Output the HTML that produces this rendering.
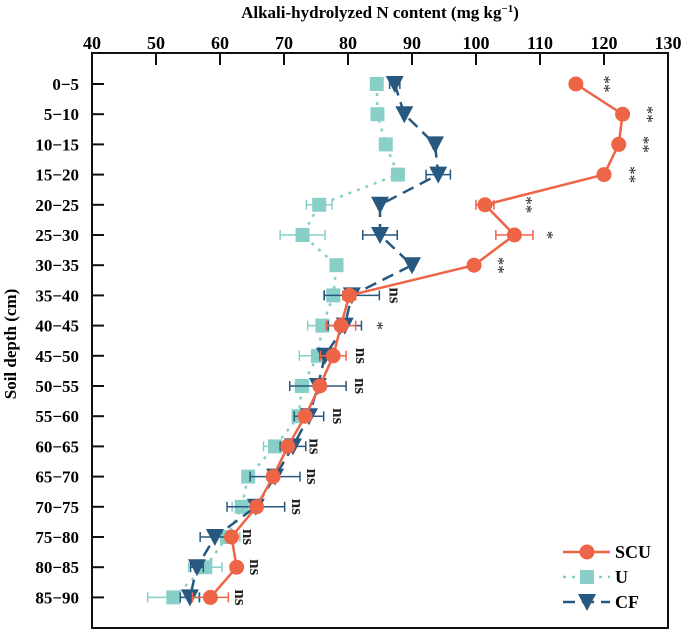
<!DOCTYPE html>
<html><head><meta charset="utf-8"><style>
html,body{margin:0;padding:0;background:#fff;}
svg{display:block;font-family:"Liberation Serif",serif;font-weight:bold;}
</style></head><body>
<svg id="chart" width="685" height="632" viewBox="0 0 685 632" xmlns="http://www.w3.org/2000/svg"></svg>
<script>
const depths=["0−5","5−10","10−15","15−20","20−25","25−30","30−35","35−40","40−45","45−50","50−55","55−60","60−65","65−70","70−75","75−80","80−85","85−90"];
const scu=[115.6,122.9,122.3,120,101.4,106,99.7,80.2,78.9,77.7,75.6,73.3,70.6,68.3,65.7,61.8,62.6,58.5];
const scuErr=[0.6,0.5,0.5,0.8,1.4,2.9,0.5,1,2.3,2,0.8,0.8,0.8,0.8,0.8,0.8,0.5,2.8];
const u=[84.5,84.6,85.9,87.8,75.5,72.9,78.2,77.7,76,75.3,72.8,72.3,68.6,64.4,63.4,61.1,57.7,52.7];
const uErr=[0.3,0.3,0.3,0.5,2,3.5,0.3,1.5,2.3,2.9,1,1,1.8,0.8,1.5,2,2.6,4];
const cf=[87.3,88.8,93.6,94.1,85,85,90,80.6,79.5,76.4,75.3,73.9,71.4,68.6,65.6,59.2,56.4,55.3];
const cfErr=[0.8,0.3,0.3,1.9,0.3,2.7,0.3,4.3,2.6,0.8,4.4,2.3,2,3.9,4.5,2.3,1,1.5];
const sig=["**","**","**","**","**","*","**","ns","*","ns","ns","ns","ns","ns","ns","ns","ns","ns"];
const sigX=[120,126.7,126.1,124,107.8,111.1,103.4,87.3,84.5,82,81.9,78.4,74.8,74.4,72,64.4,65.5,63.1];
const xTicks=[40,50,60,70,80,90,100,110,120,130];

const NS="http://www.w3.org/2000/svg";
const svg=document.getElementById('chart');
const L=92,R=668,T=53,B=628;
const x=v=>L+(v-40)*(R-L)/90;
const y=i=>84+i*30.2;
function el(tag,attrs,parent){const e=document.createElementNS(NS,tag);for(const k in attrs)e.setAttribute(k,attrs[k]);(parent||svg).appendChild(e);return e;}

let t=el('text',{x:380,y:18,'text-anchor':'middle','font-size':17});


t.innerHTML='Alkali-hydrolyzed N content (mg kg<tspan dy="-6" font-size="11">−1</tspan><tspan dy="6">)</tspan>';
t=el('text',{transform:'translate(16,344) rotate(-90)','text-anchor':'middle','font-size':17});


t.textContent='Soil depth (cm)';

const fr=el('rect',{x:L,y:T,width:R-L,height:B-T,fill:'none',stroke:'#111','stroke-width':2});



xTicks.forEach(v=>{
  const g=el('g',{});
  
  
  el('line',{x1:x(v),x2:x(v),y1:T,y2:T+12,stroke:'#111','stroke-width':2},g);
  const tx=el('text',{x:x(v),y:49,'text-anchor':'middle','font-size':18},g);
  tx.textContent=v;
});
depths.forEach((d,i)=>{
  const g=el('g',{});
  
  
  el('line',{x1:L,x2:L+12,y1:y(i),y2:y(i),stroke:'#111','stroke-width':2},g);
  const tx=el('text',{x:L-13,y:y(i)+6,'text-anchor':'end','font-size':17},g);
  tx.textContent=d;
});

const C={scu:'#ee6446',u:'#88cfc8',cf:'#27587f'};
function series(name,vals,errs,color,dash,marker){
  const g=el('g',{});
  
  
  el('polyline',{points:vals.map((v,i)=>x(v)+','+y(i)).join(' '),fill:'none',stroke:color,'stroke-width':2.5,'stroke-dasharray':dash},g);
  vals.forEach((v,i)=>{
    const e=el('path',{d:`M${x(v-errs[i])},${y(i)}H${x(v+errs[i])}M${x(v-errs[i])},${y(i)-5}v10M${x(v+errs[i])},${y(i)-5}v10`,stroke:color,'stroke-width':1.5,fill:'none'},g);
    
    
  });
  vals.forEach((v,i)=>{
    const m=marker(x(v),y(i),g);
    
    
  });
}
const circ=(cx,cy,g)=>el('circle',{cx:cx,cy:cy,r:7.5,fill:C.scu},g);
const sq=(cx,cy,g)=>el('rect',{x:cx-7,y:cy-7,width:14,height:14,fill:C.u},g);
const tri=(cx,cy,g)=>el('path',{d:`M${cx-9},${cy-8}H${cx+9}L${cx},${cy+9}Z`,fill:C.cf},g);
series('u',u,uErr,C.u,'3 6',sq);
series('cf',cf,cfErr,C.cf,'12 7',tri);
series('scu',scu,scuErr,C.scu,'',circ);

sig.forEach((s,i)=>{
  const tx=el('text',{transform:`translate(${x(sigX[i])},${y(i)}) rotate(90)`,'text-anchor':'middle','font-size':17,'font-weight':s==='ns'?'bold':'normal',fill:'#222',dy:'5'});
  
  
  tx.textContent=s;
});

const lg=el('g',{});


[['SCU',C.scu,'',circ,552],['U',C.u,'3 6',sq,577],['CF',C.cf,'12 7',tri,602]].forEach(([n,c,d,m,yy])=>{
  const g=el('g',{},lg);
  
  
  el('line',{x1:563,x2:610,y1:yy,y2:yy,stroke:c,'stroke-width':2.5,'stroke-dasharray':d},g);
  m(587,yy,g);
  const tx=el('text',{x:615,y:yy+6,'font-size':18},g);
  tx.textContent=n;
});
</script>
</body></html>
